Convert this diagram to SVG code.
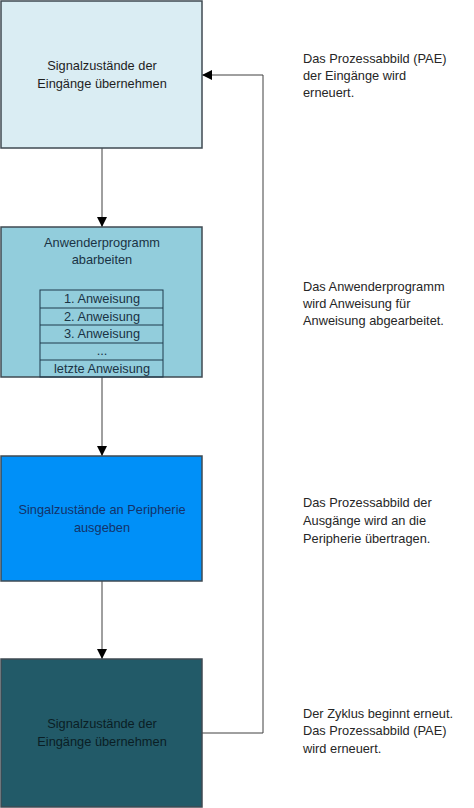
<svg xmlns="http://www.w3.org/2000/svg" width="474" height="808" viewBox="0 0 474 808">
<defs>
<marker id="arr" viewBox="0 0 10 10" refX="10" refY="5" markerWidth="10" markerHeight="10" markerUnits="userSpaceOnUse" orient="auto">
<path d="M0,0 L10,5 L0,10 z" fill="#000"/>
</marker>
<style>
.t{font-family:"Liberation Sans",Arial,sans-serif;font-size:12.8px;}
.c{text-anchor:middle;}
.note{fill:#262626;}
.box{stroke:#3f4a52;stroke-width:1.5;}
.row{fill:none;stroke:#1f3b4d;stroke-width:1;}
.conn{fill:none;stroke:#404040;stroke-width:1;}
</style>
</defs>
<rect width="474" height="808" fill="#fff"/>
<g id="connectors">
<line class="conn" x1="102" y1="148" x2="102" y2="227" marker-end="url(#arr)"/>
<line class="conn" x1="102" y1="377" x2="102" y2="456" marker-end="url(#arr)"/>
<line class="conn" x1="102" y1="581" x2="102" y2="659" marker-end="url(#arr)"/>
<polyline class="conn" points="202,733 263,733 263,75 202,75" marker-end="url(#arr)"/>
</g>
<g id="node1">
<rect class="box" x="1" y="1" width="201" height="147" fill="#daedf3"/>
<text class="t c" x="102" y="70" fill="#1e1e1e">Signalzustände der</text>
<text class="t c" x="102" y="88" fill="#1e1e1e">Eingänge übernehmen</text>
</g>
<g id="node2">
<rect class="box" x="1" y="227" width="201" height="150" fill="#92cddc"/>
<text class="t c" x="102" y="247" fill="#1a3344">Anwenderprogramm</text>
<text class="t c" x="102" y="264" fill="#1a3344">abarbeiten</text>
<rect class="row" x="40" y="290" width="123" height="87"/>
<line class="row" x1="40" y1="308" x2="163" y2="308"/>
<line class="row" x1="40" y1="325" x2="163" y2="325"/>
<line class="row" x1="40" y1="343" x2="163" y2="343"/>
<line class="row" x1="40" y1="360" x2="163" y2="360"/>
<text class="t c" x="102" y="303" fill="#1a3344">1. Anweisung</text>
<text class="t c" x="102" y="321" fill="#1a3344">2. Anweisung</text>
<text class="t c" x="102" y="338" fill="#1a3344">3. Anweisung</text>
<text class="t c" x="102" y="355" fill="#1a3344">...</text>
<text class="t c" x="102" y="373" fill="#1a3344">letzte Anweisung</text>
</g>
<g id="node3">
<rect class="box" x="1" y="456" width="201" height="125" fill="#0090f8"/>
<text class="t c" x="102" y="514" fill="#14336a">Singalzustände an Peripherie</text>
<text class="t c" x="102" y="532" fill="#14336a">ausgeben</text>
</g>
<g id="node4">
<rect class="box" x="1" y="659" width="201" height="148" fill="#225a68"/>
<text class="t c" x="102" y="728" fill="#0a1e25">Signalzustände der</text>
<text class="t c" x="102" y="746" fill="#0a1e25">Eingänge übernehmen</text>
</g>
<g id="note1">
<text class="t note" x="303" y="63">Das Prozessabbild (PAE)</text>
<text class="t note" x="303" y="80">der Eingänge wird</text>
<text class="t note" x="303" y="97">erneuert.</text>
</g>
<g id="note2">
<text class="t note" x="303" y="291">Das Anwenderprogramm</text>
<text class="t note" x="303" y="308">wird Anweisung für</text>
<text class="t note" x="303" y="325">Anweisung abgearbeitet.</text>
</g>
<g id="note3">
<text class="t note" x="303" y="507">Das Prozessabbild der</text>
<text class="t note" x="303" y="525">Ausgänge wird an die</text>
<text class="t note" x="303" y="543">Peripherie übertragen.</text>
</g>
<g id="note4">
<text class="t note" x="303" y="718">Der Zyklus beginnt erneut.</text>
<text class="t note" x="303" y="735">Das Prozessabbild (PAE)</text>
<text class="t note" x="303" y="753">wird erneuert.</text>
</g>
</svg>
